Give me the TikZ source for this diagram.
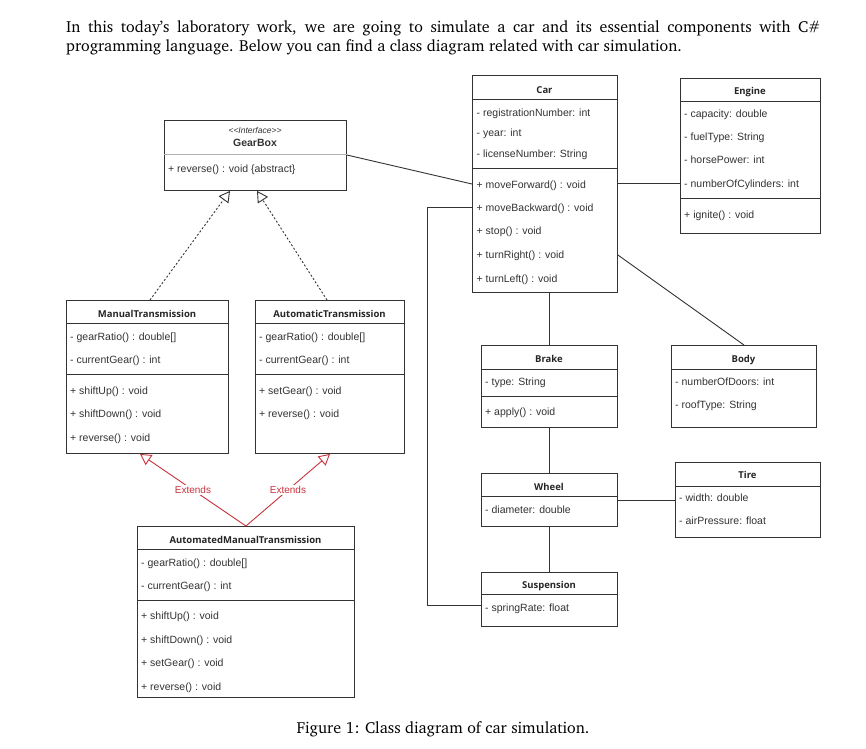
\documentclass[tikz,border=0pt]{standalone}
\usepackage{fontspec}
\setmainfont{Liberation Serif}
\newfontfamily\uisans{Liberation Sans}
\newfontfamily\uititle{Open Sans}
\newcommand\charterfont{\fontencoding{T1}\fontfamily{bch}\selectfont}
\usetikzlibrary{arrows.meta}
\definecolor{ln}{HTML}{333333}
\definecolor{lightdiv}{HTML}{B0B0B0}
\definecolor{ext}{HTML}{C8323C}
\definecolor{txt}{HTML}{333333}
\tikzset{
 cls/.style={draw=ln, line width=0.9pt, fill=white, anchor=north west, inner sep=0},
 mem/.style={anchor=base west, inner sep=0, font=\uisans\fontsize{10.5}{12}\selectfont, text=txt},
 ttl/.style={anchor=base, inner sep=0, font=\uititle\bfseries\fontsize{9.5}{11}\selectfont, text=black!85},
 div/.style={draw=ln, line width=0.8pt},
 assoc/.style={draw=ln, line width=0.9pt},
 real/.style={draw=ln, line width=0.9pt, dash pattern=on 2pt off 2pt, -{Triangle[open,length=11pt,width=12pt]}},
 gen/.style={draw=ext, line width=0.9pt, -{Triangle[open,length=11pt,width=12pt]}},
 extl/.style={fill=white, inner sep=1pt, text=ext, font=\uisans\fontsize{10}{12}\selectfont},
}
\newcommand\umlbox[5]{\node[cls, minimum width=#4pt, minimum height=#5pt] (#1) at (#2,#3) {};}
\newcommand\hdiv[3][div]{\path (0,#3) coordinate (tmpd); \draw[#1] (#2.west |- tmpd) -- (#2.east |- tmpd);}
\newcommand\members[3]{\foreach \yy/\mt [count=\i] in {#3} {\node[mem] (#1-m\i) at (#2,\yy) {\mt};}}
\begin{document}
\begin{tikzpicture}[x=1pt,y=-1pt]
\fill[white] (0,0) rectangle (866,748);
\useasboundingbox (0,0) rectangle (866,748);

% paragraph and caption
\node[anchor=north west, inner sep=0, text width=754pt, align=justify, font=\charterfont\fontsize{16}{19}\selectfont] (para) at (66,20)
 {In this today's laboratory work, we are going to simulate a car and its essential components with C\#\linebreak programming language. Below you can find a class diagram related with car simulation.};
\node[anchor=base, inner sep=0, font=\charterfont\fontsize{16}{19}\selectfont] (caption) at (443,733) {Figure 1: Class diagram of car simulation.};

% boxes
\umlbox{gearbox}{164}{120}{182}{70}
\umlbox{car}{472}{75}{145}{217}
\umlbox{engine}{680}{78}{140}{155}
\umlbox{manual}{66}{300}{162}{153}
\umlbox{auto}{255}{300}{149}{153}
\umlbox{brake}{481}{345}{136}{82}
\umlbox{body}{671}{345}{145}{82}
\umlbox{wheel}{481}{473}{136}{53}
\umlbox{tire}{675}{462}{145}{75}
\umlbox{susp}{481}{572}{136}{54}
\umlbox{amt}{137}{526}{217}{171}

% dividers
\hdiv[draw=lightdiv, line width=0.8pt]{gearbox}{154}
\hdiv{car}{99} \hdiv{car}{168}
\hdiv{engine}{101} \hdiv{engine}{198}
\hdiv{manual}{323} \hdiv{manual}{374}
\hdiv{auto}{323} \hdiv{auto}{374}
\hdiv{brake}{369} \hdiv{brake}{396}
\hdiv{body}{369}
\hdiv{wheel}{496}
\hdiv{tire}{486}
\hdiv{susp}{594}
\hdiv{amt}{549} \hdiv{amt}{600}

% titles
\node[anchor=base, inner sep=0, font=\uisans\itshape\fontsize{8.5}{10}\selectfont, text=txt] (gb-st) at (255,133) {<<Interface>>};
\node[anchor=base, inner sep=0, font=\uisans\bfseries\fontsize{10.5}{12}\selectfont, text=txt] (gb-t) at (255,146) {GearBox};
\node[ttl] (car-t) at (544.5,93) {Car};
\node[ttl] (engine-t) at (750,94) {Engine};
\node[ttl] (manual-t) at (147,317) {ManualTransmission};
\node[ttl] (auto-t) at (329.5,317) {AutomaticTransmission};
\node[ttl] (brake-t) at (549,362) {Brake};
\node[ttl] (body-t) at (743.5,362) {Body};
\node[ttl] (wheel-t) at (549,490) {Wheel};
\node[ttl] (tire-t) at (747.5,478) {Tire};
\node[ttl] (susp-t) at (549,588) {Suspension};
\node[ttl] (amt-t) at (245.5,543) {AutomatedManualTransmission};

% members
\members{gearbox}{168}{172/{+ reverse() : void \{abstract\}}}
\members{car}{476.5}{116/{- registrationNumber: int},136/{- year: int},157/{- licenseNumber: String},188/{+ moveForward() : void},211/{+ moveBackward() : void},234/{+ stop() : void},258/{+ turnRight() : void},282/{+ turnLeft() : void}}
\members{engine}{684}{117/{- capacity: double},140/{- fuelType: String},163/{- horsePower: int},187/{- numberOfCylinders: int},218/{+ ignite() : void}}
\members{manual}{70}{340/{- gearRatio() : double[]},363/{- currentGear() : int},394/{+ shiftUp() : void},417/{+ shiftDown() : void},441/{+ reverse() : void}}
\members{auto}{259}{340/{- gearRatio() : double[]},363/{- currentGear() : int},394/{+ setGear() : void},417/{+ reverse() : void}}
\members{brake}{485}{385/{- type: String},415/{+ apply() : void}}
\members{body}{675}{385/{- numberOfDoors: int},408/{- roofType: String}}
\members{wheel}{485}{513/{- diameter: double}}
\members{tire}{679}{501/{- width: double},524/{- airPressure: float}}
\members{susp}{485}{611/{- springRate: float}}
\members{amt}{141}{566/{- gearRatio() : double[]},589/{- currentGear() : int},619/{+ shiftUp() : void},643/{+ shiftDown() : void},666/{+ setGear() : void},690/{+ reverse() : void}}

% connectors
\coordinate (ygb) at (0,155);
\coordinate (ycar) at (0,184);
\coordinate (yeng) at (0,183);
\coordinate (ybody) at (0,255);
\coordinate (ytire) at (0,500);
\coordinate (ysus) at (0,207);
\coordinate (bend) at (427,605);
\draw[assoc] (gearbox.east |- ygb) -- (car.west |- ycar);
\draw[assoc] (car.east |- yeng) -- (engine.west |- yeng);
\draw[assoc] (car.east |- ybody) -- (body.north);
\draw[assoc] (brake.north |- car.south) -- (brake.north);
\draw[assoc] (brake.south) -- (wheel.north);
\draw[assoc] (wheel.south) -- (susp.north);
\draw[assoc] (wheel.east |- ytire) -- (tire.west |- ytire);
\draw[assoc] (car.west |- ysus) -| (bend) -- (susp.west |- bend);

\draw[real] ([xshift=84pt]manual.north west) -- ([xshift=66pt]gearbox.south west);
\draw[real] ([xshift=72pt]auto.north west) -- ([xshift=93pt]gearbox.south west);

\draw[gen] (amt.north) -- node[extl, pos=0.5] (ext1) {Extends} ([xshift=74pt]manual.south west);
\draw[gen] (amt.north) -- node[extl, pos=0.5] (ext2) {Extends} ([xshift=75pt]auto.south west);
\end{tikzpicture}
\end{document}
